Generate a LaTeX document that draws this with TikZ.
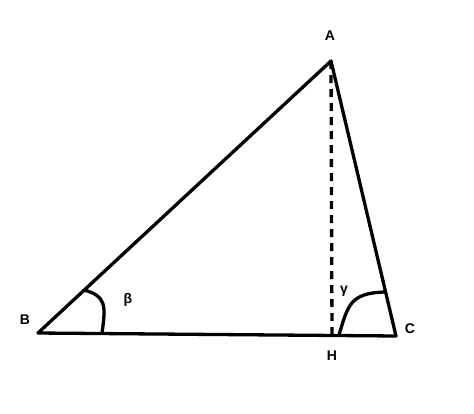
\documentclass[tikz,border=0pt]{standalone}
\usepackage{fontspec}
\setmainfont{Liberation Sans}
\begin{document}
\begin{tikzpicture}[x=1pt,y=-1pt,line width=3.3pt,line cap=round,line join=round]
\tikzset{vlabel/.style={font=\fontsize{14}{16}\selectfont\bfseries,inner sep=0pt}}
\useasboundingbox (0,0) rectangle (474,413);
\coordinate (A) at (331,61);
\coordinate (B) at (38,333);
\coordinate (C) at (396,336);
\coordinate (H) at (332,334);
\coordinate (b1) at (84,290);
\coordinate (b2) at (102,333);
\coordinate (c1) at (385,292);
\coordinate (c2) at (339,335);
\draw (B) -- (A) -- (C) -- cycle;
\draw [dash pattern=on 8pt off 6pt,line cap=butt] (A) -- (H);
\draw (b1) .. controls (106,296) and (106,305) .. (b2);
\draw (c1) .. controls (350,293) and (348,305) .. (c2);
\node [vlabel] (la) at (330,36) {A};
\node [vlabel] (lb) at (25,320) {B};
\node [vlabel] (lc) at (410,329) {C};
\node [vlabel] (lh) at (332,356) {H};
\node [vlabel] (lbeta) at (128,300) {β};
\node [vlabel] (lgamma) at (344,291) {γ};
\end{tikzpicture}
\end{document}
